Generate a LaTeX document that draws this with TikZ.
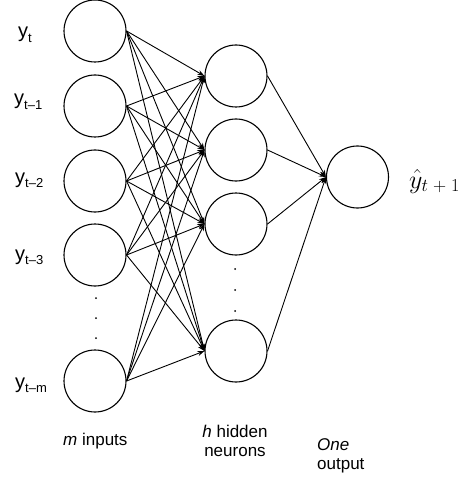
\documentclass[tikz,border=0pt]{standalone}
\usepackage{fix-cm}
\usepackage{fontspec}
\setmainfont{Liberation Sans}
\usetikzlibrary{arrows.meta}
\begin{document}
\begin{tikzpicture}[x=1pt,y=-1pt,
  neuron/.style={draw,circle,line width=1.1pt,minimum size=62pt,inner sep=0pt},
  conn/.style={line width=0.9pt,-{Stealth[length=7pt,width=5pt]}},
  ylab/.style={anchor=base west,inner sep=0pt,font=\fontsize{20}{24}\selectfont},
  caption/.style={inner sep=0pt,font=\fontsize{17}{19}\selectfont},
  vdot/.style={circle,fill=black,inner sep=0pt,minimum size=2pt}]
\useasboundingbox (0,0) rectangle (474,481);
\newcommand{\subs}[1]{\raisebox{-4.5pt}{\fontsize{13}{15}\selectfont #1}}
% input neurons
\node[neuron] (i1) at (95,31) {};
\node[neuron] (i2) at (95,106) {};
\node[neuron] (i3) at (95,181) {};
\node[neuron] (i4) at (95,255) {};
\node[neuron] (i5) at (95,381) {};
% hidden neurons
\node[neuron] (h1) at (236,76) {};
\node[neuron] (h2) at (236,150) {};
\node[neuron] (h3) at (236,224) {};
\node[neuron] (h4) at (236,351) {};
% output neuron
\node[neuron] (o) at (357.5,177) {};
% dots
\node[vdot] (d1) at (96,298) {};
\node[vdot] (d2) at (96,318) {};
\node[vdot] (d3) at (96,338) {};
\node[vdot] (e1) at (235,269) {};
\node[vdot] (e2) at (235,290) {};
\node[vdot] (e3) at (235,311) {};
% connections
\foreach \i in {1,...,5}{
  \foreach \h in {1,...,4}{
    \draw[conn] (i\i.east) -- (h\h.west);
  }
}
\foreach \h in {1,...,4}{
  \draw[conn] (h\h.east) -- (o.west);
}
% labels
\node[ylab] (l1) at (18,38) {y\subs{t}};
\node[ylab] (l2) at (14,105) {y\subs{t–1}};
\node[ylab] (l3) at (15,183) {y\subs{t–2}};
\node[ylab] (l4) at (15,260) {y\subs{t–3}};
\node[ylab] (l5) at (15,388) {y\subs{t–m}};
\node[anchor=base west,inner sep=0pt,font=\fontsize{26}{30}\selectfont] (out) at (409,188) {$\hat{y}_{t\;+\;1}$};
\node[caption,anchor=base west] (c1) at (63,445) {\itshape m\upshape\ inputs};
\node[caption,anchor=base] (c2) at (235,437) {\itshape h\upshape\ hidden};
\node[caption,anchor=base] (c3) at (235,456) {neurons};
\node[caption,anchor=base west] (c4) at (317,450) {\itshape One};
\node[caption,anchor=base west] (c5) at (317,469) {output};
\end{tikzpicture}
\end{document}
